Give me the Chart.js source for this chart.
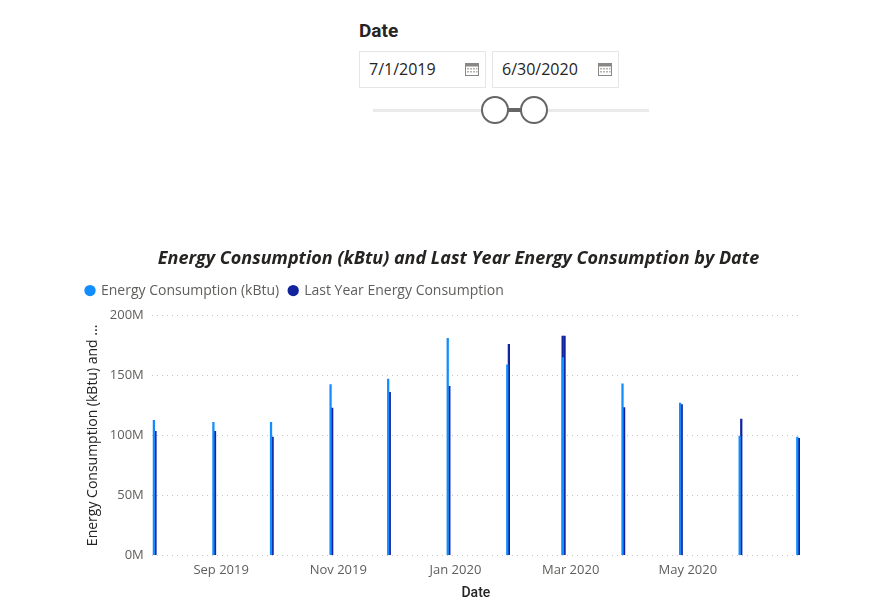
<!DOCTYPE html>
<html>
<head>
<meta charset="utf-8">
<script src="https://cdn.jsdelivr.net/npm/chart.js@4.4.1/dist/chart.umd.min.js"></script>
<style>
  body { margin: 0; background: #fff; width: 876px; height: 609px; overflow: hidden; position: relative; font-family: "Open Sans", sans-serif; }
  .slicer-title { position: absolute; left: 359px; top: 19px; font: bold 19px Roboto, sans-serif; color: #252423; }
  .date-box { position: absolute; top: 51px; height: 37px; border: 1px solid #E6E6E6; box-sizing: border-box; font: 16px "Open Sans", sans-serif; color: #252423; line-height: 35px; padding-left: 9px; }
  .date-box svg { position: absolute; right: 6px; top: 11px; }
  .track { position: absolute; left: 373px; top: 109px; width: 276px; height: 3px; background: #EAEAEA; }
  .knob { position: absolute; top: 96px; width: 24px; height: 24px; border: 2.5px solid #666; border-radius: 50%; background: #fff; }
  .link { position: absolute; left: 505px; top: 108px; width: 18px; height: 4px; background: #666; }
  #chartBox { position: absolute; left: 76px; top: 238px; width: 765px; height: 368px; }
</style>
</head>
<body>
<div class="slicer-title">Date</div>
<div class="date-box" style="left:359px;width:127px;">7/1/2019
  <svg width="14" height="13" viewBox="0 0 14 13"><rect x="0.5" y="0.5" width="13" height="12" fill="#fff" stroke="#8a8886"/><rect x="0.5" y="0.5" width="13" height="3" fill="#8a8886"/><g fill="#b3b0ad"><rect x="2" y="5" width="2" height="1.5"/><rect x="5" y="5" width="2" height="1.5"/><rect x="8" y="5" width="2" height="1.5"/><rect x="11" y="5" width="1.5" height="1.5"/><rect x="2" y="8" width="2" height="1.5"/><rect x="5" y="8" width="2" height="1.5"/><rect x="8" y="8" width="2" height="1.5"/><rect x="11" y="8" width="1.5" height="1.5"/></g></svg>
</div>
<div class="date-box" style="left:492px;width:127px;">6/30/2020
  <svg width="14" height="13" viewBox="0 0 14 13"><rect x="0.5" y="0.5" width="13" height="12" fill="#fff" stroke="#8a8886"/><rect x="0.5" y="0.5" width="13" height="3" fill="#8a8886"/><g fill="#b3b0ad"><rect x="2" y="5" width="2" height="1.5"/><rect x="5" y="5" width="2" height="1.5"/><rect x="8" y="5" width="2" height="1.5"/><rect x="11" y="5" width="1.5" height="1.5"/><rect x="2" y="8" width="2" height="1.5"/><rect x="5" y="8" width="2" height="1.5"/><rect x="8" y="8" width="2" height="1.5"/><rect x="11" y="8" width="1.5" height="1.5"/></g></svg>
</div>
<div class="track"></div>
<div class="link"></div>
<div class="knob" style="left:481px;"></div>
<div class="knob" style="left:520px;"></div>

<div id="chartBox"><canvas id="chart"></canvas></div>

<script>
// month-end dates (Feb 28 appears because last year's Feb 28 maps onto both Feb 28 and 29)
const barDates = ["2019-07-31", "2019-08-31", "2019-09-30", "2019-10-31", "2019-11-30", "2019-12-31",
  "2020-01-31", "2020-02-28", "2020-02-29", "2020-03-31", "2020-04-30", "2020-05-31", "2020-06-30"];

// values in millions of kBtu
const energyConsumption = [112.5, 111, 111, 142.5, 147, 181, 159, null, 165, 143, 127, 99.5, 98.5];
const lastYearConsumption = [103.3, 103.3, 98.6, 122.8, 136, 141, 176, 183, 183, 123.3, 125.8, 113.7, 97.5];

const tickDates = ["2019-09-01", "2019-11-01", "2020-01-01", "2020-03-01", "2020-05-01"];
const tickLabels = ["Sep 2019", "Nov 2019", "Jan 2020", "Mar 2020", "May 2020"];

const startDate = "2019-07-01";
const endDate = "2020-06-30";

function dayNum(s) {
  return (Date.parse(s) - Date.parse(startDate)) / 86400000;
}

const tickDays = tickDates.map(dayNum);

function toPoints(values) {
  return barDates.map((d, i) => ({ x: dayNum(d), y: values[i] == null ? null : values[i] * 1e6 }));
}

// a bit more room under the legend
const legendGap = {
  id: "legendGap",
  beforeInit(chart) {
    const fit = chart.legend.fit;
    chart.legend.fit = function () {
      fit.bind(chart.legend)();
      this.height += 8;
    };
  }
};

const ctx = document.getElementById("chart").getContext("2d");
new Chart(ctx, {
  type: "bar",
  data: {
    datasets: [
      {
        label: "Energy Consumption (kBtu)",
        data: toPoints(energyConsumption),
        backgroundColor: "#118DFF",
        barThickness: 1.6
      },
      {
        label: "Last Year Energy Consumption",
        data: toPoints(lastYearConsumption),
        backgroundColor: "#12239E",
        barThickness: 1.6
      }
    ]
  },
  plugins: [legendGap],
  options: {
    responsive: true,
    maintainAspectRatio: false,
    animation: false,
    layout: { padding: { left: 0, right: 0, top: 10, bottom: 4 } },
    plugins: {
      title: {
        display: true,
        text: "Energy Consumption (kBtu) and Last Year Energy Consumption by Date",
        color: "#252423",
        font: { family: "Open Sans", size: 18, weight: "bold", style: "italic" },
        padding: { top: 0, bottom: 4 }
      },
      legend: {
        align: "start",
        labels: {
          usePointStyle: true,
          pointStyle: "circle",
          boxWidth: 8,
          boxHeight: 8,
          padding: 10,
          color: "#605E5C",
          font: { family: "Open Sans", size: 14 }
        }
      },
      tooltip: { enabled: false }
    },
    scales: {
      x: {
        type: "linear",
        offset: false,
        min: dayNum("2019-07-30") - 0.5,
        max: dayNum(endDate) + 1,
        grid: { display: false, offset: false },
        border: { display: false },
        afterBuildTicks: axis => {
          axis.ticks = tickDays.map(v => ({ value: v }));
        },
        ticks: {
          autoSkip: false,
          maxRotation: 0,
          labelOffset: 5,
          padding: 1,
          color: "#605E5C",
          font: { family: "Open Sans", size: 13, lineHeight: 1 },
          callback: value => tickLabels[tickDays.indexOf(value)]
        },
        title: {
          display: true,
          text: "Date",
          color: "#252423",
          font: { family: "Roboto", size: 14, weight: "500" },
          padding: { top: 7, bottom: 0 }
        }
      },
      y: {
        min: 0,
        max: 200e6,
        grid: { color: "#C8C6C4", borderDash: [1, 4], drawTicks: false },
        border: { display: false, dash: [1, 4] },
        ticks: {
          stepSize: 50e6,
          padding: 8,
          color: "#605E5C",
          font: { family: "Open Sans", size: 13 },
          callback: value => (value / 1e6) + "M"
        },
        title: {
          display: true,
          text: "Energy Consumption (kBtu) and ...",
          color: "#252423",
          font: { family: "Open Sans", size: 14 },
          padding: { top: 9, bottom: 0 }
        }
      },
      // empty right-hand gutter, keeps title/legend spanning the full width
      gutter: {
        type: "linear",
        position: "right",
        display: true,
        grid: { display: false },
        border: { display: false },
        ticks: { display: false },
        afterFit: scale => { scale.width = 41; }
      }
    }
  }
});
</script>
</body>
</html>
